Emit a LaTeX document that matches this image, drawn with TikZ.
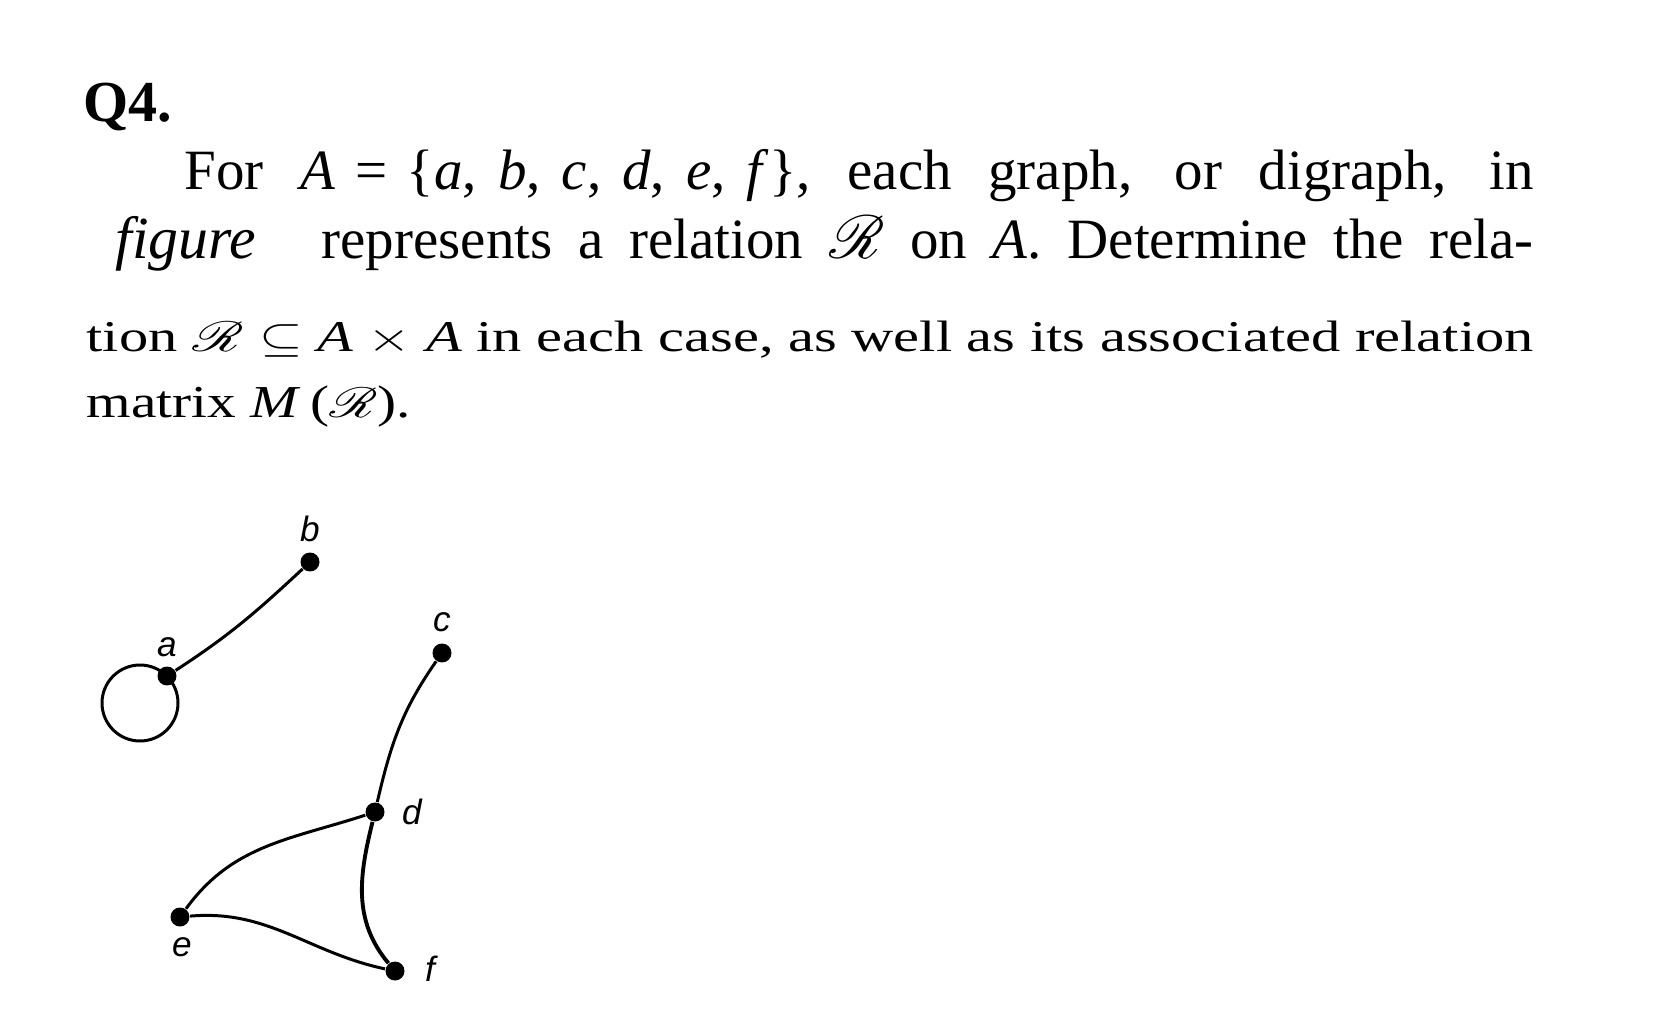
\documentclass[tikz,border=0pt]{standalone}
\usepackage{fontspec}
\setmainfont{Liberation Serif}
\setsansfont{Liberation Sans}
\usepackage{mathrsfs}
\usepackage{graphicx}

\tikzset{
	vertex/.style = {circle, fill = black, inner sep = 0pt, minimum size = 5.4pt},
	vlabel/.style = {font = \sffamily\itshape\fontsize{10}{12}\selectfont, inner sep = 0pt},
	edge/.style = {line width = 0.85pt},
	txt/.style = {anchor = base west, inner sep = 0pt, font = \fontsize{16.2}{19}\selectfont},
}

\begin{document}
\begin{tikzpicture}[x = 0.01cm, y = 0.01cm]
	\useasboundingbox (0,0) rectangle (1680,-1010);
	
	% question
	\node[txt, font = \bfseries\fontsize{16.5}{20}\selectfont] (q) at (83,-122) {Q4.};
	\node[txt] (l1) at (184,-190) {\makebox[13.48cm][s]{For \makebox[5.1cm][s]{\textit{A} = \{\textit{a}, \textit{b}, \textit{c}, \textit{d}, \textit{e}, \textit{f}\},} each graph, or digraph, in}};
	\node[txt, font = \itshape\fontsize{17}{20}\selectfont] (fig) at (115,-259) {figure};
	\node[txt] (l2) at (321,-259) {\makebox[12.11cm][s]{represents a relation $\mathscr{R}$ on \textit{A}. Determine the rela-}};
	\node[txt, font = \fontsize{12.5}{15}\selectfont] (l3) at (86,-352) {\resizebox{14.46cm}{\height}{tion $\mathscr{R} \subseteq$ \textit{A} $\times$ \textit{A} in each case, as well as its associated relation}};
	\node[txt, font = \fontsize{13}{15}\selectfont] (l4) at (86,-418) {\resizebox{3.24cm}{\height}{matrix \textit{M}\,($\mathscr{R}$).}};
	
	% vertices
	\node[vertex] (a) at (167,-676) {};
	\node[vertex] (b) at (310,-562) {};
	\node[vertex] (c) at (442,-653) {};
	\node[vertex] (d) at (375,-812) {};
	\node[vertex] (e) at (180,-917) {};
	\node[vertex] (f) at (395,-971) {};
	
	\node[vlabel] (la) at (167,-647) {a};
	\node[vlabel] (lb) at (310,-529) {b};
	\node[vlabel] (lc) at (442,-622) {c};
	\node[vlabel] (ld) at (412,-812) {d};
	\node[vlabel] (le) at (182,-947) {e};
	\node[vlabel] (lf) at (430,-969) {f};
	
	% edges
	\draw[edge] ([shift={(-27,-27)}]a.center) circle (38);
	\draw[edge] (a) to[out=33, in=-137] (b);
	\draw[edge] (c) to[out=-125, in=77] (d);
	\draw[edge] (d) to[out=198, in=54] (e);
	\draw[edge] (e) to[out=5, in=168] (f);
	\draw[edge, line width = 1.1pt] (d) to[out=-104, in=130] (f);
	
\end{tikzpicture}
\end{document}
